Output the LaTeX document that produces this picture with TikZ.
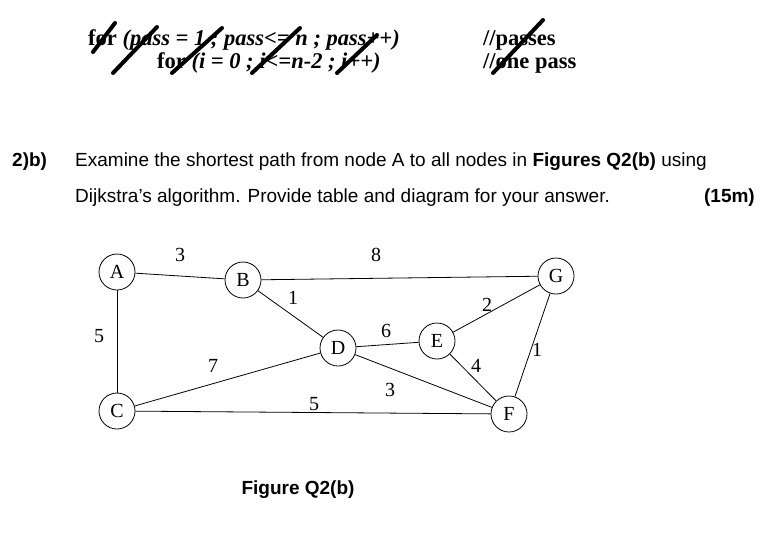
\documentclass[tikz,border=0pt]{standalone}
\usepackage{fontspec}
\setmainfont{Liberation Serif}
\newfontfamily\qsans{Liberation Sans}
\begin{document}
\begin{tikzpicture}[x=1pt,y=-1pt,
  vtx/.style={circle,draw,thick,minimum size=36pt,inner sep=0pt,font=\fontsize{20}{22}\selectfont},
  edge/.style={thick},
  wt/.style={font=\fontsize{20}{22}\selectfont},
  code/.style={anchor=base west,inner sep=0pt,font=\fontsize{22.5}{24}\selectfont\bfseries},
  slash/.style={line width=4pt,line cap=round},
  qtext/.style={font=\qsans\fontsize{19}{22}\selectfont,anchor=base west,inner sep=0pt}]
\useasboundingbox (0,0) rectangle (768,542);
% crossed-out code
\node[code] (l1) at (88,45) {for \textit{(pass = 1 ; pass<= n ; pass++)}};
\node[code] (l2) at (157,68) {for \textit{(i = 0 ; i<=n-2 ; i++)}};
\node[code] (c1) at (483,45) {//passes};
\node[code] (c2) at (483,68) {//one pass};
\draw[slash] (93,52) -- (115,23);
\draw[slash] (113,73) -- (157,27);
\draw[slash] (172,73) -- (222,28);
\draw[slash] (252,73) -- (300,28);
\draw[slash] (337,73) -- (377,35);
\draw[slash] (493,73) -- (543,20);
% question
\node[qtext,font=\qsans\bfseries\fontsize{19}{22}\selectfont] (qn) at (12,166) {2)b)};
\node[qtext] (q1) at (75,166) {Examine the shortest path from node A to all nodes in \textbf{Figures Q2(b)} using};
\node[qtext] (q2) at (75,202) {Dijkstra’s algorithm. Provide table and diagram for your answer.};
\node[qtext,anchor=base east,font=\qsans\bfseries\fontsize{19}{22}\selectfont] (mk) at (755,202) {(15m)};
% graph
\node[vtx] (A) at (117,272) {A};
\node[vtx] (B) at (243,280) {B};
\node[vtx] (G) at (556,276) {G};
\node[vtx] (D) at (338,348) {D};
\node[vtx] (E) at (437,341) {E};
\node[vtx] (C) at (117,411) {C};
\node[vtx] (F) at (509,414) {F};
\draw[edge] (A) -- (B);
\draw[edge] (B) -- (G);
\draw[edge] (B) -- (D);
\draw[edge] (A) -- (C);
\draw[edge] (C) -- (D);
\draw[edge] (D) -- (E);
\draw[edge] (E) -- (G);
\draw[edge] (E) -- (F);
\draw[edge] (D) -- (F);
\draw[edge] (C) -- (F);
\draw[edge] (G) -- (F);
\node[wt] (w1) at (180,255) {3};
\node[wt] (w2) at (376,255) {8};
\node[wt] (w3) at (293,298) {1};
\node[wt] (w4) at (99,336) {5};
\node[wt] (w5) at (213,366) {7};
\node[wt] (w6) at (386,331) {6};
\node[wt] (w7) at (487,305) {2};
\node[wt] (w8) at (476,366) {4};
\node[wt] (w9) at (390,390) {3};
\node[wt] (w10) at (314,404) {5};
\node[wt] (w11) at (537,350) {1};
\node[qtext,anchor=center,font=\qsans\bfseries\fontsize{19}{22}\selectfont] (cap) at (298,490) {Figure Q2(b)};
\end{tikzpicture}
\end{document}
